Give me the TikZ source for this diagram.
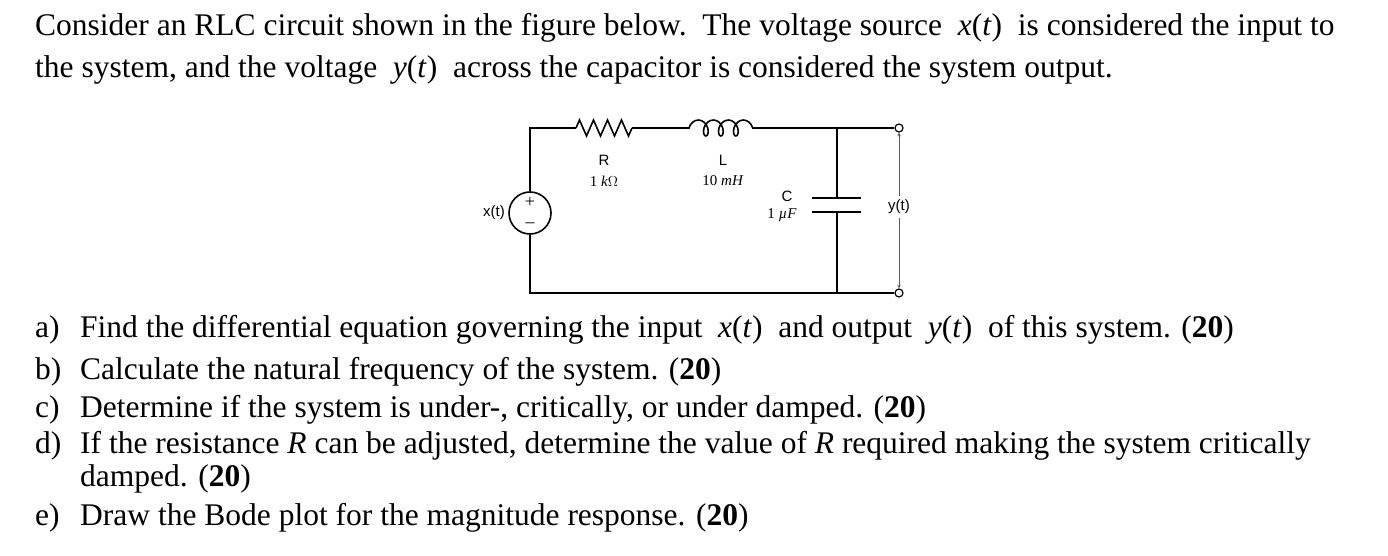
\documentclass[tikz,border=0pt]{standalone}
\usepackage{fontspec}
\setmainfont{Liberation Serif}
\newfontfamily\circfont{Liberation Sans}
\usetikzlibrary{decorations.pathmorphing,positioning}
\newcommand{\vx}{\textit{x}(\textit{t})}
\newcommand{\vy}{\textit{y}(\textit{t})}
\tikzset{
  body/.style={anchor=base west, inner sep=0pt, font=\fontsize{31.5}{36}\selectfont},
  wire/.style={line width=1.6pt},
  lbl/.style={font=\circfont\fontsize{15}{16}\selectfont, inner sep=0pt},
  val/.style={font=\fontsize{15}{16}\selectfont, inner sep=0pt},
  term/.style={circle, draw, line width=1.2pt, fill=white, minimum size=8pt, inner sep=0pt},
}
\begin{document}
\begin{tikzpicture}[x=1pt, y=-1pt]
\useasboundingbox (0,0) rectangle (1388,556);

% question text
\node[body] (l1) at (35,36) {Consider an RLC circuit shown in the figure below.\ \ The voltage source \ \vx\ \ is considered the input to};
\node[body] (l2) at (35,78) {the system, and the voltage \ \vy\ \ across the capacitor is considered the system output.};

% circuit
\coordinate (tl) at (530,128);
\coordinate (bl) at (530,293);
\coordinate (ctop) at (837,128);
\coordinate (cbot) at (837,293);
\node[term] (tout) at (899,128) {};
\node[term] (bout) at (899,293) {};
\node[circle, draw, line width=1.6pt, minimum size=42pt, inner sep=0pt] (src) at (530,213) {};
\node[font=\fontsize{18}{18}\selectfont, inner sep=0pt] (plus) at (530,202) {+};
\node[font=\fontsize{18}{18}\selectfont, inner sep=0pt] (minus) at (530,225) {--};
\coordinate (ra) at (576,128);
\coordinate (rb) at (632,128);
\coordinate (la) at (686,128);
\coordinate (lb) at (763,128);
\coordinate (c1) at (837,198);
\coordinate (c2) at (837,212);

\draw[wire] (src.north) -- (tl) -- (ra);
\draw[wire] (ra) -- ++(3.5,-8) -- ++(7,16) -- ++(7,-16) -- ++(7,16) -- ++(7,-16) -- ++(7,16) -- ++(7,-16) -- ++(7,16) -- (rb);
\draw[wire] (rb) -- (la);
\draw[wire, decorate, decoration={coil, aspect=0.7, segment length=15pt, amplitude=8pt, pre length=3pt, post length=3pt}] (la) -- (lb);
\draw[wire] (lb) -- (ctop) -- (tout);
\draw[wire] (ctop) -- (c1);
\draw[wire] (812,198) -- (861,198);
\draw[wire] (812,212) -- (861,212);
\draw[wire] (c2) -- (cbot);
\draw[wire] (src.south) -- (bl) -- (cbot) -- (bout);

\node[lbl] (rl) at (604,160) {R};
\node[val] (rv) at (604,181) {1 \textit{k}$\Omega$};
\node[lbl] (ll) at (723,160) {L};
\node[val] (lv) at (723,181) {10 \textit{mH}};
\node[lbl] (cl) at (787,196) {C};
\node[val] (cv) at (782,215) {1 \textit{µF}};
\node[lbl] (xl) at (494,213) {x(t)};
\node[lbl, inner sep=4pt] (yl) at (899,207) {y(t)};
\draw[-stealth, line width=0.7pt, gray!70!black] (yl.north) -- (tout.south);
\draw[-stealth, line width=0.7pt, gray!70!black] (yl.south) -- (bout.north);

% questions
\node[body] (qa) at (35,337) {a)};
\node[body] (ta) at (80,337) {Find the differential equation governing the input \ \vx\ \ and output \ \vy\ \ of this system. (\textbf{20})};
\node[body] (qb) at (35,379) {b)};
\node[body] (tb) at (80,379) {Calculate the natural frequency of the system. (\textbf{20})};
\node[body] (qc) at (35,417) {c)};
\node[body] (tc) at (80,417) {Determine if the system is under-, critically, or under damped. (\textbf{20})};
\node[body] (qd) at (35,453) {d)};
\node[body] (td) at (80,453) {If the resistance \textit{R} can be adjusted, determine the value of \textit{R} required making the system critically};
\node[body] (td2) at (80,486) {damped. (\textbf{20})};
\node[body] (qe) at (35,525) {e)};
\node[body] (te) at (80,525) {Draw the Bode plot for the magnitude response. (\textbf{20})};
\end{tikzpicture}
\end{document}
